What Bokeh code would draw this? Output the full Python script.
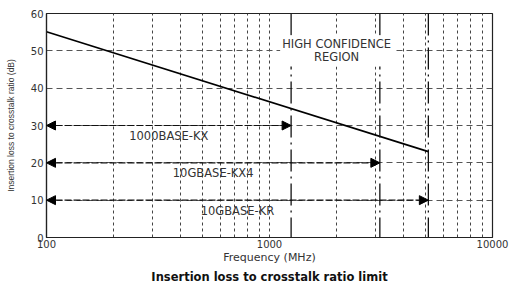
import numpy as np
from bokeh.plotting import figure
from bokeh.models import (FixedTicker, Arrow, NormalHead, ColumnDataSource, Label,
                          Title, Span)
from bokeh.embed import file_html
from bokeh.resources import INLINE

# ---------------- data ----------------
freq_min, freq_max = 100, 10000
db_min, db_max = 0, 60
x_ticks = [100, 1000, 10000]
x_tick_labels = ["100", "1000", "10000"]
y_ticks = [0, 10, 20, 30, 40, 50, 60]
x_grid = [200, 300, 400, 500, 600, 700, 800, 900, 1000,
          2000, 3000, 4000, 5000, 6000, 7000, 8000, 9000]
y_grid = [10, 20, 30, 40, 50]

# insertion loss to crosstalk ratio limit line
icr_freq = [100, 5156.25]
icr_db = [55.1, 23.0]

# PHY types: upper frequency (MHz) and ICR level (dB)
std_names = ["1000BASE-KX", "10GBASE-KX4", "10GBASE-KR"]
std_limit_freq = [1250, 3125, 5156.25]
std_level = [30, 20, 10]
label_drop_db = 2.8

region_text = "HIGH CONFIDENCE\nREGION"
region_freq = 2000
region_db = 50

SMALL = "DejaVu Sans"

p = figure(width=515, height=285, x_axis_type="log",
           x_range=(freq_min, freq_max), y_range=(db_min, db_max),
           output_backend="svg", toolbar_location=None,
           min_border_left=46, min_border_right=23, min_border_top=13,
           min_border_bottom=6)
p.background_fill_color = "white"
p.border_fill_color = "white"
p.outline_line_color = "#222222"
p.outline_line_width = 1.2

# axes
p.xaxis.ticker = FixedTicker(ticks=x_ticks)
p.xaxis.major_label_overrides = dict(zip(x_ticks, x_tick_labels))
p.yaxis.ticker = FixedTicker(ticks=y_ticks)
for ax in (p.xaxis, p.yaxis):
    ax.major_tick_in = 0
    ax.major_tick_out = 0
    ax.minor_tick_in = 0
    ax.minor_tick_out = 0
    ax.axis_line_color = "#222222"
    ax.axis_line_width = 1.2
    ax.major_label_text_font = SMALL
    ax.major_label_text_font_size = "10px"
    ax.major_label_text_color = "#333333"
p.xaxis.major_label_standoff = 2
p.yaxis.major_label_standoff = 3

p.xaxis.axis_label = "Frequency (MHz)"
p.xaxis.axis_label_text_font = SMALL
p.xaxis.axis_label_text_font_size = "11px"
p.xaxis.axis_label_text_font_style = "normal"
p.xaxis.axis_label_text_color = "#333333"
p.xaxis.axis_label_standoff = 0

p.yaxis.axis_label = "Insertion loss to crosstalk ratio (dB)"
p.yaxis.axis_label_text_font = "Liberation Sans"
p.yaxis.axis_label_text_font_size = "8.5px"
p.yaxis.axis_label_text_font_style = "normal"
p.yaxis.axis_label_text_color = "#333333"
p.yaxis.axis_label_standoff = 12

# grids
p.xgrid.ticker = FixedTicker(ticks=x_grid)
p.ygrid.ticker = FixedTicker(ticks=y_grid)
p.xgrid.grid_line_color = "#444444"
p.xgrid.grid_line_dash = "3 3"
p.xgrid.grid_line_width = 1
p.ygrid.grid_line_color = "#555555"
p.ygrid.grid_line_dash = "6 4"
p.ygrid.grid_line_width = 1

# title below
title = Title(text="Insertion loss to crosstalk ratio limit", align="center",
              text_font="DejaVu Sans", text_font_size="11.5px",
              text_font_style="bold", text_color="#111111", standoff=3)
p.add_layout(title, "below")

# vertical limit lines
for f in std_limit_freq:
    p.add_layout(Span(location=f, dimension="height", line_color="#111111",
                      line_width=1.3, line_dash="22 5 2 5"))

# ICR line
p.line(icr_freq, icr_db, line_color="black", line_width=1.6)

# arrows
arr_src = ColumnDataSource(dict(
    x0=[freq_min] * len(std_limit_freq), x1=std_limit_freq,
    y=std_level))
p.add_layout(Arrow(source=arr_src, x_start="x0", y_start="y", x_end="x1", y_end="y",
                   start=NormalHead(size=9, fill_color="black", line_color="black"),
                   end=NormalHead(size=9, fill_color="black", line_color="black"),
                   line_color="#111111", line_width=1.2, line_dash="7 2"))

# PHY labels
lab_src = ColumnDataSource(dict(
    x=list(np.sqrt(np.array(std_limit_freq) * freq_min)),
    y=[v - label_drop_db for v in std_level],
    t=std_names))
p.text(x="x", y="y", text="t", source=lab_src, text_align="center",
       text_baseline="middle", text_font_size="11.5px", text_color="#333333",
       text_font={"value": SMALL})

p.add_layout(Label(x=region_freq, y=region_db, text=region_text,
                   text_align="center", text_baseline="middle",
                   text_font=SMALL, text_font_size="11.5px", text_color="#333333",
                   text_line_height=0.95,
                   background_fill_color="white", padding=2))

open("out.html", "w").write(file_html(p, INLINE))
